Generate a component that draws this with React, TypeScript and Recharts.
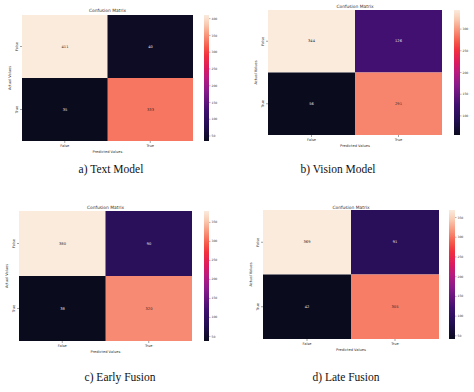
import React from 'react';
import { BarChart, Bar, XAxis, YAxis, Cell, LabelList } from 'recharts';

// ---------- data ----------
const predictedLabels = ['False', 'True'];
const actualLabels = ['False', 'True'];

// rows = actual (False, True), columns = predicted (False, True)
const textModel = [
  [411, 40],
  [35, 333],
];
const visionModel = [
  [344, 126],
  [56, 291],
];
const earlyFusion = [
  [380, 90],
  [38, 320],
];
const lateFusion = [
  [369, 91],
  [42, 305],
];

const textTicks = [50, 100, 150, 200, 250, 300, 350, 400];
const visionTicks = [100, 150, 200, 250, 300];
const earlyTicks = [50, 100, 150, 200, 250, 300, 350];
const lateTicks = [50, 100, 150, 200, 250, 300, 350];

const captions = ['a) Text Model', 'b) Vision Model', 'c) Early Fusion', 'd) Late Fusion'];
const chartTitle = 'Confusion Matrix';
const xAxisTitle = 'Predicted Values';
const yAxisTitle = 'Actual Values';

const matrices = [textModel, visionModel, earlyFusion, lateFusion];
const colorbarTicks = [textTicks, visionTicks, earlyTicks, lateTicks];

// ---------- layout / style ----------
const layouts = [
  { plotL: 22, plotR: 193, plotT: 15, plotB: 141, cbL: 204, cbW: 5, titleY: 10, capX: 111, capY: 169 },
  { plotL: 268, plotR: 442, plotT: 10, plotB: 135, cbL: 454, cbW: 6, titleY: 6, capX: 338, capY: 169 },
  { plotL: 19, plotR: 192, plotT: 211, plotB: 341, cbL: 204, cbW: 5, titleY: 207, capX: 120, capY: 377 },
  { plotL: 263, plotR: 439, plotT: 210, plotB: 339, cbL: 449, cbW: 6, titleY: 207, capX: 346, capY: 377 },
];

const cmapStops: [number, string][] = [
  [0, '#0b0b1e'],
  [0.12, '#220e52'],
  [0.24, '#40106f'],
  [0.4, '#8a1a8a'],
  [0.5, '#b81a80'],
  [0.58, '#dc1a5e'],
  [0.68, '#f2303f'],
  [0.75, '#f55a4a'],
  [0.85, '#f89b80'],
  [0.93, '#f9cdb5'],
  [1, '#faebdd'],
];

const SMALL_FONT = 'DejaVu Sans';
const TEXT_COLOR = '#333';

function hexToRgb(h: string) {
  const n = parseInt(h.slice(1), 16);
  return [(n >> 16) & 255, (n >> 8) & 255, n & 255];
}
function rgbToHex(r: number[]) {
  return '#' + r.map((v) => Math.round(v).toString(16).padStart(2, '0')).join('');
}
function cmap(t: number) {
  const tt = Math.max(0, Math.min(1, t));
  for (let i = 1; i < cmapStops.length; i++) {
    const [t1, c1] = cmapStops[i];
    const [t0, c0] = cmapStops[i - 1];
    if (tt <= t1) {
      const f = (tt - t0) / (t1 - t0);
      const a = hexToRgb(c0);
      const b = hexToRgb(c1);
      return rgbToHex(a.map((v, k) => v + (b[k] - v) * f));
    }
  }
  return cmapStops[cmapStops.length - 1][1];
}
function luminance(hex: string) {
  const [r, g, b] = hexToRgb(hex);
  return (0.299 * r + 0.587 * g + 0.114 * b) / 255;
}

const YTick = (props: any) => {
  const { x, y, payload } = props;
  return (
    <text
      x={x}
      y={y}
      transform={`rotate(-90 ${x} ${y})`}
      textAnchor="middle"
      dominantBaseline="central"
      fontSize={3.6}
      fill={TEXT_COLOR}
      fontFamily={SMALL_FONT}
    >
      {actualLabels[Math.floor(payload.value)]}
    </text>
  );
};

function Panel({ idx }: { idx: number }) {
  const m = matrices[idx];
  const L = layouts[idx];
  const flat = m.flat();
  const vmin = Math.min(...flat);
  const vmax = Math.max(...flat);
  const colorFor = (v: number) => cmap((v - vmin) / (vmax - vmin));

  const rows = predictedLabels.map((p, j) => ({
    pred: p,
    actualFalse: m[0][j],
    actualTrue: m[1][j],
    span: 1,
  }));

  const cellText = (props: any) => {
    const { x, y, width, height, value } = props;
    const dark = luminance(colorFor(value)) < 0.45;
    return (
      <text
        x={x + width / 2}
        y={y + height / 2}
        textAnchor="middle"
        dominantBaseline="central"
        fontSize={3.6}
        fill={dark ? '#e6e6ee' : '#262626'}
        fontFamily={SMALL_FONT}
      >
        {value}
      </text>
    );
  };

  const plotW = L.plotR - L.plotL;
  const plotH = L.plotB - L.plotT;
  const gid = `cmapGrad${idx}`;

  return (
    <>
      <div style={{ position: 'absolute', left: L.plotL - 30, top: L.plotT }}>
        <BarChart
          width={plotW + 30}
          height={plotH + 12}
          data={rows}
          margin={{ top: 0, right: 0, bottom: 0, left: 0 }}
          barCategoryGap={0}
          barGap={0}
        >
          <XAxis
            dataKey="pred"
            axisLine={false}
            tickLine={{ stroke: '#444', strokeWidth: 0.5 }}
            tickSize={2}
            tickMargin={1}
            height={12}
            interval={0}
            tick={{ fontSize: 3.6, fill: TEXT_COLOR, fontFamily: SMALL_FONT }}
            label={{
              value: xAxisTitle,
              position: 'insideBottom',
              offset: 0,
              fontSize: 3.6,
              fill: TEXT_COLOR,
              fontFamily: SMALL_FONT,
            }}
          />
          <YAxis
            type="number"
            domain={[0, 2]}
            reversed
            ticks={[0.5, 1.5]}
            width={30}
            axisLine={false}
            tickLine={{ stroke: '#444', strokeWidth: 0.5 }}
            tickSize={2}
            tickMargin={3}
            tick={<YTick />}
            label={{
              value: yAxisTitle,
              angle: -90,
              position: 'insideLeft',
              offset: 18,
              style: { textAnchor: 'middle' },
              fontSize: 3.6,
              fill: TEXT_COLOR,
              fontFamily: SMALL_FONT,
            }}
          />
          <Bar dataKey="span" stackId="m" isAnimationActive={false}>
            {rows.map((r, i) => (
              <Cell key={`f${i}`} fill={colorFor(r.actualFalse)} />
            ))}
            <LabelList dataKey="actualFalse" content={cellText} />
          </Bar>
          <Bar dataKey="span" stackId="m" isAnimationActive={false}>
            {rows.map((r, i) => (
              <Cell key={`t${i}`} fill={colorFor(r.actualTrue)} />
            ))}
            <LabelList dataKey="actualTrue" content={cellText} />
          </Bar>
        </BarChart>
      </div>
      <div style={{ position: 'absolute', left: L.cbL, top: L.plotT }}>
        <BarChart
          width={L.cbW + 20}
          height={plotH}
          data={[{ name: 'cb', range: [vmin, vmax] }]}
          margin={{ top: 0, right: 0, bottom: 0, left: 0 }}
          barCategoryGap={0}
        >
          <defs>
            <linearGradient id={gid} x1="0" y1="1" x2="0" y2="0">
              {cmapStops.map(([t, c], k) => (
                <stop key={k} offset={t} stopColor={c} />
              ))}
            </linearGradient>
          </defs>
          <XAxis dataKey="name" hide />
          <YAxis
            orientation="right"
            type="number"
            domain={[vmin, vmax]}
            allowDataOverflow
            ticks={colorbarTicks[idx]}
            interval={0}
            width={20}
            axisLine={false}
            tickLine={{ stroke: '#444', strokeWidth: 0.4 }}
            tickSize={1.5}
            tickMargin={1}
            tick={{ fontSize: 3, fill: TEXT_COLOR, fontFamily: SMALL_FONT, textAnchor: 'start' }}
          />
          <Bar dataKey="range" fill={`url(#${gid})`} isAnimationActive={false} />
        </BarChart>
      </div>
    </>
  );
}

export default function App() {
  return (
    <div
      style={{
        position: 'absolute',
        left: 0,
        top: 0,
        width: 474,
        height: 392,
        background: '#ffffff',
        overflow: 'hidden',
      }}
    >
      {layouts.map((_, i) => (
        <Panel key={i} idx={i} />
      ))}
      <svg
        width={474}
        height={392}
        style={{ position: 'absolute', left: 0, top: 0, pointerEvents: 'none' }}
      >
        {layouts.map((L, i) => (
          <text
            key={`title${i}`}
            x={(L.plotL + L.plotR) / 2}
            y={L.titleY}
            textAnchor="middle"
            dominantBaseline="central"
            fontSize={4.4}
            fill={TEXT_COLOR}
            fontFamily={SMALL_FONT}
          >
            {chartTitle}
          </text>
        ))}
        {layouts.map((L, i) => (
          <text
            key={`cap${i}`}
            x={L.capX}
            y={L.capY}
            textAnchor="middle"
            dominantBaseline="central"
            fontSize={11.5}
            fill="#111"
            fontFamily="Liberation Serif"
          >
            {captions[i]}
          </text>
        ))}
      </svg>
    </div>
  );
}
